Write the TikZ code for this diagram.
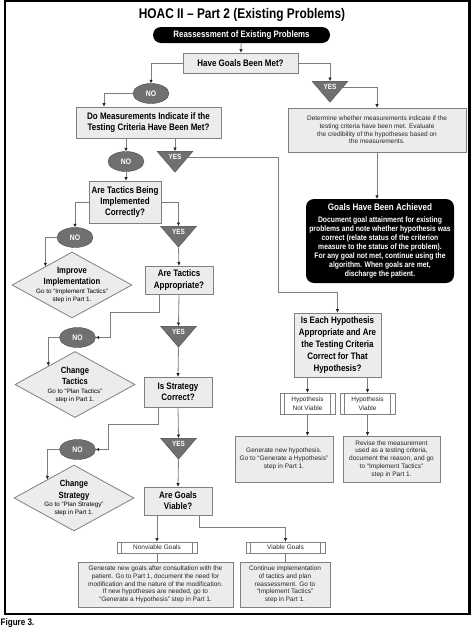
\documentclass[tikz,border=0pt]{standalone}
\usepackage{fontspec}
\setmainfont{Liberation Sans}
\newfontfamily\condfont{Liberation Sans}[FakeStretch=0.85]
\usetikzlibrary{shapes.geometric,arrows.meta,positioning}
\definecolor{BoxGray}{RGB}{236,236,236}
\definecolor{EdgeGray}{RGB}{128,128,128}
\definecolor{BubGray}{RGB}{112,112,112}
\definecolor{LineGray}{RGB}{125,125,125}
\newcommand{\dtitle}{\condfont\bfseries\fontsize{9}{7.7}\selectfont}
\newcommand{\dsmall}{\normalfont\fontsize{6.3}{7.7}\selectfont}

\begin{document}
\begin{tikzpicture}[x=1pt,y=-1pt,
    head/.style={font=\condfont\bfseries\fontsize{14}{16}\selectfont,inner sep=0pt},
    start/.style={fill=black,text=white,rounded corners=8pt,font=\condfont\bfseries\fontsize{9.3}{11}\selectfont,
                  minimum width=177pt,minimum height=16pt,inner sep=0pt},
    qbox/.style={draw=EdgeGray,fill=BoxGray,line width=0.8pt,font=\condfont\bfseries\fontsize{9.4}{11.2}\selectfont,
                 align=center,inner sep=0pt},
    nobub/.style={ellipse,draw=BubGray!70!black,fill=BubGray,text=white,font=\condfont\bfseries\fontsize{8}{9}\selectfont,
                  minimum width=36pt,minimum height=20pt,inner sep=0pt},
    yestri/.style={isosceles triangle,isosceles triangle stretches,shape border rotate=-90,anchor=north,
                   draw=BubGray!70!black,fill=BubGray,text=white,font=\condfont\bfseries\fontsize{7.5}{8}\selectfont,
                   minimum width=36pt,minimum height=21pt,inner sep=0pt},
    act/.style={diamond,draw=EdgeGray,fill=BoxGray,line width=0.8pt,aspect=1.8,minimum width=120pt,minimum height=66pt,
                inner xsep=-8pt,inner ysep=-4pt,align=center,font=\dsmall},
    note/.style={draw=EdgeGray,fill=BoxGray,line width=0.8pt,font=\fontsize{6.5}{7.7}\selectfont,text=black!85,
                 align=center,inner sep=0pt},
    proc/.style={draw=EdgeGray,fill=white,line width=0.8pt,font=\fontsize{6.5}{9}\selectfont,text=black!85,
                 align=center,inner sep=0pt},
    done/.style={fill=black,text=white,rounded corners=8pt,font=\condfont\bfseries\fontsize{8}{9.1}\selectfont,
                 align=center,minimum width=148pt,minimum height=84pt,inner sep=0pt},
    arr/.style={LineGray,line width=0.8pt,-{Triangle[length=3.5pt,width=3pt,color=black!85]}},
    ln/.style={LineGray,line width=0.8pt}]
    \useasboundingbox (0,0) rectangle (474,627);
    \draw[line width=2.4pt] (5,1.2) rectangle (469.6,613.8);
    \node[head,anchor=base west,font=\condfont\bfseries\fontsize{9.5}{11}\selectfont] (fig) at (0.5,625.5) {Figure 3.};

    \node[head] (title) at (242,15) {HOAC II – Part 2 (Existing Problems)};
    \node[start] (start) at (241.5,35) {Reassessment of Existing Problems};
    \node[qbox,minimum width=115pt,minimum height=20pt] (goals) at (240.5,63) {Have Goals Been Met?};
    \draw[arr] (start) -- (goals);

    \node[nobub] (no1) at (151,93.5) {NO};
    \node[yestri] (yes1) at (330,81) {YES};
    \draw[arr] (goals.west) -| (no1.north); \draw[arr] (goals.east) -| (yes1.north);

    \node[qbox,minimum width=145pt,minimum height=31pt] (meas) at (148.5,122.5) {Do Measurements Indicate if the\\Testing Criteria Have Been Met?};
    \node[note,minimum width=178pt,minimum height=44pt] (det) at (377,130) {Determine whether measurements indicate if the\\testing criteria have been met. Evaluate\\the credibility of the hypotheses based on\\the measurements.};
    \draw[arr] (no1.west) -| ([xshift=-44.5pt]meas.north); \draw[arr] (yes1.east) -| (det.north);

    \node[nobub] (no2) at (126,161.5) {NO};
    \node[yestri] (yes2) at (175,151) {YES};
    \draw[arr] (no2.north |- meas.south) -- (no2.north); \draw[arr] (yes2.north |- meas.south) -- (yes2.north);

    \node[done] (ach) at (380,241) {{\fontsize{9.5}{11}\selectfont Goals Have Been Achieved}\\[3pt]
      Document goal attainment for existing\\problems and note whether hypothesis was\\correct (relate status of the criterion\\
      measure to the status of the problem).\\For any goal not met, continue using the\\algorithm. When goals are met,\\discharge the patient.};
    \draw[arr] (det.south) -- (det.south |- ach.north);

    \node[qbox,minimum width=72pt,minimum height=42pt] (tbi) at (125,202) {Are Tactics Being\\Implemented\\Correctly?};
    \draw[arr] (no2.south) -- (no2.south |- tbi.north);

    \node[nobub] (no3) at (75,237.5) {NO};
    \node[yestri] (yes3) at (178.5,226) {YES};
    \draw[arr] (tbi.west) -| (no3.north); \draw[arr] (tbi.east) -| (yes3.north);

    \node[act] (impr) at (72,285) {\dtitle Improve\\[2pt]\dtitle Implementation\\[1pt]\dsmall Go to “Implement Tactics”\\\dsmall step in Part 1.};
    \node[qbox,minimum width=68pt,minimum height=28pt] (ta) at (179,280) {Are Tactics\\Appropriate?};
    \draw[arr] (no3.west) -| (impr.145); \draw[arr] (yes3.south) -- (ta.north);

    \node[nobub] (no4) at (77.5,337.5) {NO};
    \node[yestri] (yes4) at (178.5,326) {YES};
    \draw[arr] ([xshift=-20pt]ta.south) -- ++(0,18) -- ++(-49,0) |- (no4.east); \draw[arr] (ta.south) -- (yes4.north);

    \node[act] (ctac) at (75,384.5) {\dtitle Change\\[2pt]\dtitle Tactics\\[1pt]\dsmall Go to “Plan Tactics”\\\dsmall step in Part 1.};
    \node[qbox,minimum width=68pt,minimum height=30pt] (sc) at (178,392) {Is Strategy\\Correct?};
    \draw[arr] (no4.west) -| (ctac.145); \draw[arr] (yes4.south) -- (sc.north);

    \node[nobub] (no5) at (77.5,449.5) {NO};
    \node[yestri] (yes5) at (178.5,438) {YES};
    \draw[arr] ([xshift=-20pt]sc.south) -- ++(0,17) -- ++(-50,0) |- (no5.east); \draw[arr] (sc.south) -- (yes5.north);

    \node[act] (cstr) at (74,498) {\dtitle Change\\[2pt]\dtitle Strategy\\[1pt]\dsmall Go to “Plan Strategy”\\\dsmall step in Part 1.};
    \node[qbox,minimum width=68pt,minimum height=28pt] (gv) at (178,501) {Are Goals\\Viable?};
    \draw[arr] (no5.west) -| (cstr.145); \draw[arr] (yes5.south) -- (gv.north);

    \node[proc,minimum width=80pt,minimum height=11pt] (nvg) at (157,547.5) {Nonviable Goals};
    \node[proc,minimum width=79pt,minimum height=11pt] (vg) at (285.5,547.5) {Viable Goals};
    \draw[arr] (nvg.north |- gv.south) -- (nvg.north); \draw[arr] ([xshift=21pt]gv.south) -- ++(0,12) -| (vg.north);

    \node[note,minimum width=155pt,minimum height=45pt] (newg) at (155.5,584.5) {Generate new goals after consultation with the\\patient. Go to Part 1, document the need for\\modification and the nature of the modification.\\If new hypotheses are needed, go to\\“Generate a Hypothesis” step in Part 1.};
    \node[note,minimum width=90pt,minimum height=45pt] (cont) at (285,584.5) {Continue implementation\\of tactics and plan\\reassessment. Go to\\“Implement Tactics”\\step in Part 1.};
    \draw[ln] (nvg.south) -- (nvg.south |- newg.north); \draw[ln] (vg.south) -- (vg.south |- cont.north);

    \node[qbox,minimum width=87pt,minimum height=64pt,font=\condfont\bfseries\fontsize{9.4}{11.8}\selectfont] (hyp) at (337.5,345) {Is Each Hypothesis\\Appropriate and Are\\the Testing Criteria\\Correct for That\\Hypothesis?};
    \draw[arr] (yes2.east) -| ++(90,135) -| (hyp.north);

    \node[proc,minimum width=55pt,minimum height=21pt] (hnv) at (307.5,403.5) {Hypothesis\\Not Viable};
    \node[proc,minimum width=55pt,minimum height=21pt] (hv) at (367.5,403.5) {Hypothesis\\Viable};
    \draw[arr] (hnv.north |- hyp.south) -- (hnv.north); \draw[arr] (hv.north |- hyp.south) -- (hv.north);

    \node[note,minimum width=98pt,minimum height=46pt] (genh) at (284,459) {Generate new hypothesis.\\Go to “Generate a Hypothesis”\\step in Part 1.};
    \node[note,minimum width=97pt,minimum height=46pt] (rev) at (391.5,459) {Revise the measurement\\used as a testing criteria,\\document the reason, and go\\to “Implement Tactics”\\step in Part 1.};
    \draw[arr] (hnv.south) -- (hnv.south |- genh.north); \draw[arr] (hv.south) -- (hv.south |- rev.north);

    \foreach \n in {hnv,hv,nvg,vg}
      \draw[EdgeGray,line width=0.8pt] ([xshift=5pt]\n.north west) -- ([xshift=5pt]\n.south west)
        ([xshift=-5pt]\n.north east) -- ([xshift=-5pt]\n.south east);
\end{tikzpicture}
\end{document}
